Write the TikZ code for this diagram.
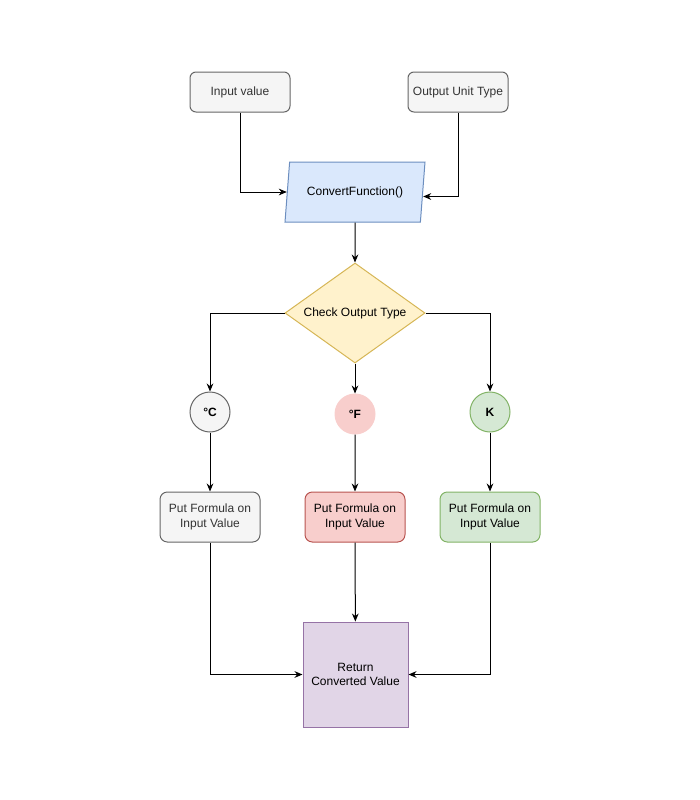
\documentclass[tikz,border=0pt]{standalone}
\usepackage{fontspec}
\setmainfont{Liberation Sans}
\usetikzlibrary{arrows.meta,positioning,shapes.geometric}
\definecolor{grayfill}{HTML}{F5F5F5}
\definecolor{grayline}{HTML}{666666}
\definecolor{graytext}{HTML}{333333}
\definecolor{bluefill}{HTML}{DAE8FC}
\definecolor{blueline}{HTML}{6C8EBF}
\definecolor{yellowfill}{HTML}{FFF2CC}
\definecolor{yellowline}{HTML}{D6B656}
\definecolor{redfill}{HTML}{F8CECC}
\definecolor{redline}{HTML}{B85450}
\definecolor{greenfill}{HTML}{D5E8D4}
\definecolor{greenline}{HTML}{82B366}
\definecolor{purplefill}{HTML}{E1D5E7}
\definecolor{purpleline}{HTML}{9673A6}

\begin{document}
\begin{tikzpicture}[x = 0.75pt, y = -0.75pt, line width = 0.75pt, font = \fontsize{9}{11}\selectfont]
        \tikzstyle{inputbox} = [rectangle, rounded corners = 4.5pt, draw = grayline, fill = grayfill, text = graytext, align = center, minimum width = 75pt, minimum height = 30pt, inner sep = 1pt]
        \tikzstyle{formula} = [rectangle, rounded corners = 5.5pt, align = center, minimum width = 75pt, minimum height = 37.5pt, inner sep = 1pt]
        \tikzstyle{unit} = [circle, minimum size = 30pt, inner sep = 0pt, font = \fontsize{9}{11}\selectfont\bfseries]
        \tikzstyle{arr} = [-{Stealth[length = 6pt, width = 5pt]}, black]
        \useasboundingbox (0,0) rectangle (700,800);
        \node at (240,92) (input) [inputbox] {Input value};
        \node at (458,92) (outtype) [inputbox] {Output Unit Type};
        \node at (355,192) (convert) [trapezium, trapezium left angle = 71.57, trapezium right angle = 108.43, trapezium stretches body, draw = blueline, fill = bluefill, minimum width = 105pt, minimum height = 45pt, inner sep = 1pt] {ConvertFunction()};
        \node (check) [diamond, aspect = 1.4, draw = yellowline, fill = yellowfill, minimum width = 105pt, minimum height = 75pt, inner sep = 0pt, below = 30pt of convert] {Check Output Type};
        \node at (210,412) (celsius) [unit, draw = grayline, fill = grayfill] {°C};
        \node (fahrenheit) [unit, draw = redfill, fill = redfill, below = 22.5pt of check] {°F};
        \node at (490,412) (kelvin) [unit, draw = greenline, fill = greenfill] {K};
        \node at (210,517) (cformula) [formula, draw = grayline, fill = grayfill, text = graytext] {Put Formula on \\ Input Value};
        \node at (355,517) (fformula) [formula, draw = redline, fill = redfill] {Put Formula on \\ Input Value};
        \node at (490,517) (kformula) [formula, draw = greenline, fill = greenfill] {Put Formula on \\ Input Value};
        \node at (355.5,674.5) (result) [rectangle, draw = purpleline, fill = purplefill, align = center, minimum size = 78.75pt, inner sep = 1pt] {Return \\ Converted Value};
        \draw [arr] (input) |- (convert);
        \draw [arr] (outtype.south) -- ++(0,84) coordinate (c1) -- (c1-|convert.east);
        \draw [arr] (convert) -- (check);
        \draw [arr] (check.west) -| (celsius);
        \draw [arr] (check) -- (fahrenheit);
        \draw [arr] (check.east) -| (kelvin);
        \draw [arr] (celsius) -- (cformula);
        \draw [arr] (fahrenheit) -- (fformula);
        \draw [arr] (kelvin) -- (kformula);
        \draw [arr] (cformula) |- (result);
        \draw [arr] (fformula) -- (result);
        \draw [arr] (kformula) |- (result);
    \end{tikzpicture}
\end{document}
